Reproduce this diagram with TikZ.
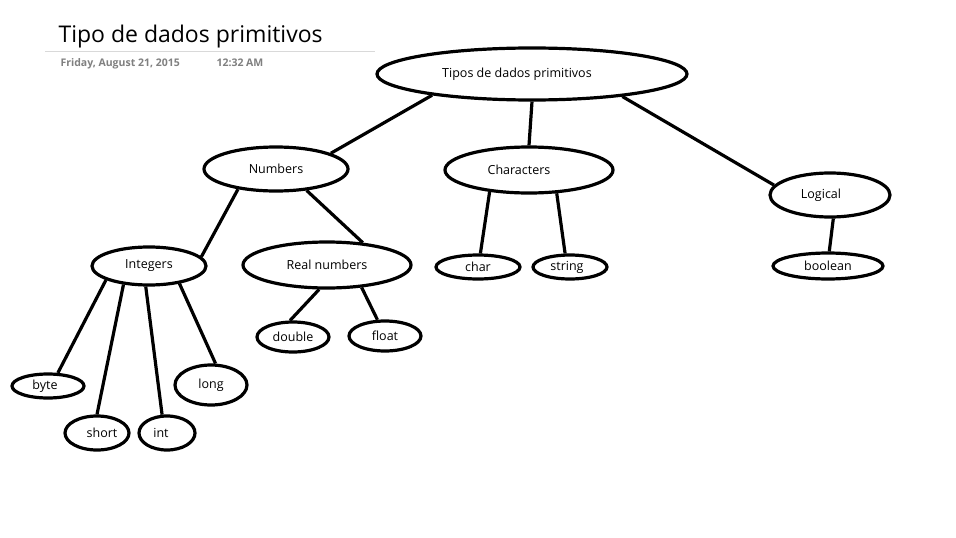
\documentclass[tikz,border=0pt]{standalone}
\usepackage{fontspec}
\setmainfont{Open Sans}
\usetikzlibrary{shapes.geometric}
\begin{document}
\begin{tikzpicture}[x=1pt,y=-1pt,
  ov/.style={ellipse,draw,line width=3.2pt,inner sep=0pt,font=\fontsize{12.5}{14}\selectfont},
  ln/.style={line width=3.2pt}]
\useasboundingbox[fill=white] (0,0) rectangle (956,538);
\node[anchor=base west,font=\fontsize{23}{26}\selectfont] (title) at (55,42) {Tipo de dados primitivos};
\draw[gray!30,line width=0.6pt] (45,51) coordinate (l1) -- (375,51) coordinate (l2);
\node[anchor=base west,text=gray,font=\fontsize{10.5}{12}\selectfont\bfseries] (date) at (57,66) {Friday, August 21, 2015};
\node[anchor=base west,text=gray,font=\fontsize{10.5}{12}\selectfont\bfseries] (time) at (213,66) {12:32 AM};

\node[ov,minimum width=310,minimum height=52] (root) at (532,74) {Tipos de dados primitivos\hspace*{30pt}};
\node[ov,minimum width=144,minimum height=44] (num) at (276,169) {Numbers};
\node[ov,minimum width=168,minimum height=46] (chars) at (529,170) {Characters\hspace*{20pt}};
\node[ov,minimum width=120,minimum height=44] (log) at (830,195) {Logical\hspace*{18pt}};
\node[ov,minimum width=114,minimum height=38] (ints) at (149,266) {Integers};
\node[ov,minimum width=168,minimum height=46] (real) at (327,265) {Real numbers};
\node[ov,minimum width=84,minimum height=24] (charn) at (478,267) {char};
\node[ov,minimum width=74,minimum height=24] (str) at (570,267) {string\hspace*{6pt}};
\node[ov,minimum width=110,minimum height=26] (bool) at (828,266) {boolean};
\node[ov,minimum width=72,minimum height=30] (dbl) at (293,337) {double};
\node[ov,minimum width=72,minimum height=30] (flt) at (385,336) {float};
\node[ov,minimum width=72,minimum height=24] (byte) at (48,386) {byte\hspace*{6pt}};
\node[ov,minimum width=72,minimum height=40] (long) at (211,385) {long};
\node[ov,minimum width=64,minimum height=34] (short) at (97,433) {\hspace*{10pt}short};
\node[ov,minimum width=56,minimum height=34] (intn) at (167,433) {int\hspace*{12pt}};

\draw[ln] (root.192) -- (num.16);
\draw[ln] (root.270) -- (chars.90);
\draw[ln] (root.346) -- (log.170);
\draw[ln] (num.208) -- (ints.10);
\draw[ln] (num.325) -- (real.32);
\draw[ln] (chars.209) -- (charn.80);
\draw[ln] (chars.320) -- (str.110);
\draw[ln] (log.278) -- (bool.85);
\draw[ln] (ints.198) -- (byte.53);
\draw[ln] (ints.216) -- (short.90);
\draw[ln] (ints.261) -- (intn.105);
\draw[ln] (ints.330) -- (long.78);
\draw[ln] (real.252) -- (dbl.100);
\draw[ln] (real.327) -- (flt.115);
\end{tikzpicture}
\end{document}
